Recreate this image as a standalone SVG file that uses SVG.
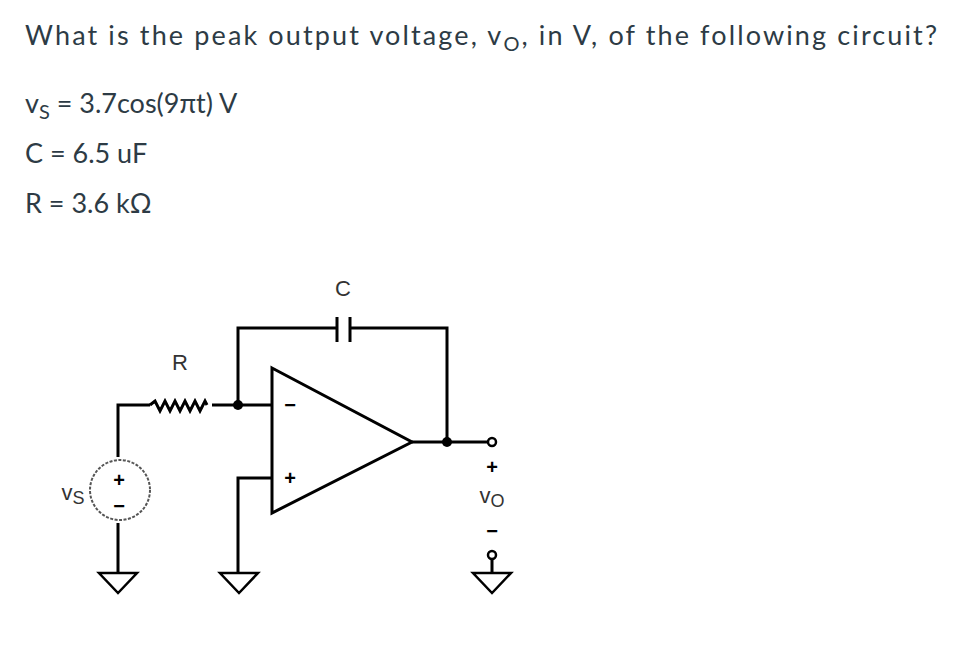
<svg xmlns="http://www.w3.org/2000/svg" width="968" height="648" viewBox="0 0 968 648">
<style>
.t{font-family:Lato,"Open Sans",sans-serif;font-size:27px;fill:#2d3b45}
.l{font-family:"Liberation Sans",Arial,sans-serif;font-size:22px;fill:#333}
.w{fill:none;stroke:#000;stroke-width:3;stroke-linejoin:miter}
.g{fill:#fff;stroke:#000;stroke-width:2.5}
.s{font-family:"Liberation Sans",Arial,sans-serif;font-size:20px;font-weight:bold;fill:#000}
</style>
<rect width="968" height="648" fill="#fff"/>
<text class="t" x="25" y="45" textLength="912">What is the peak output voltage, v<tspan font-size="20" dy="6">O</tspan><tspan dy="-6">, in V, of the following circuit?</tspan></text>
<text class="t" x="25" y="113">v<tspan font-size="20" dy="6">S</tspan><tspan dy="-6"> = 3.7cos(9πt) V</tspan></text>
<text class="t" x="25" y="163">C = 6.5 uF</text>
<text class="t" x="25" y="213">R = 3.6 kΩ</text>
<g id="connectors">
<path class="w" d="M118 457V405H150M212 405H272M238 405V328H337M350 328H447V442M412 442H488M272 478H238V573M118 523V573M492 559V573"/>
<path class="w" d="M150 405l5-4 5 10 5-10 5 10 5-10 5 10 5-10 5 10 5-10 5 10 5-10 2 4"/>
</g>
<g id="capacitor"><path class="w" d="M337 317V342M350 317V342"/><text class="l" x="343" y="296" text-anchor="middle">C</text></g>
<g id="resistor"><text class="l" x="180" y="370" text-anchor="middle">R</text></g>
<g id="node1"><circle cx="238" cy="405" r="5"/></g>
<g id="node2"><circle cx="447" cy="442" r="5"/></g>
<g id="opamp"><path class="w" d="M272 368L412 442L272 513Z" fill="#fff"/><text class="s" x="290" y="412" text-anchor="middle">−</text><text class="s" x="290" y="485" text-anchor="middle">+</text></g>
<g id="source"><circle cx="120" cy="490" r="30" fill="#fff" stroke="#555" stroke-width="2" stroke-dasharray="3 1.5"/><text class="s" x="119" y="487" text-anchor="middle">+</text><text class="s" x="119" y="513" text-anchor="middle">−</text><text class="l" x="73" y="500" text-anchor="middle">v<tspan font-size="18" dy="4">S</tspan></text></g>
<g id="output"><circle cx="492" cy="442" r="4" class="g"/><circle cx="492" cy="555" r="4" class="g"/><text class="s" x="492" y="474" text-anchor="middle">+</text><text class="l" x="492" y="503" text-anchor="middle">v<tspan font-size="18" dy="4">O</tspan></text><text class="s" x="492" y="538" text-anchor="middle">−</text></g>
<g id="gnd1"><path class="g" d="M99 573H137L118 593Z"/></g>
<g id="gnd2"><path class="g" d="M220 573H258L239 593Z"/></g>
<g id="gnd3"><path class="g" d="M473 573H511L492 593Z"/></g>
</svg>
